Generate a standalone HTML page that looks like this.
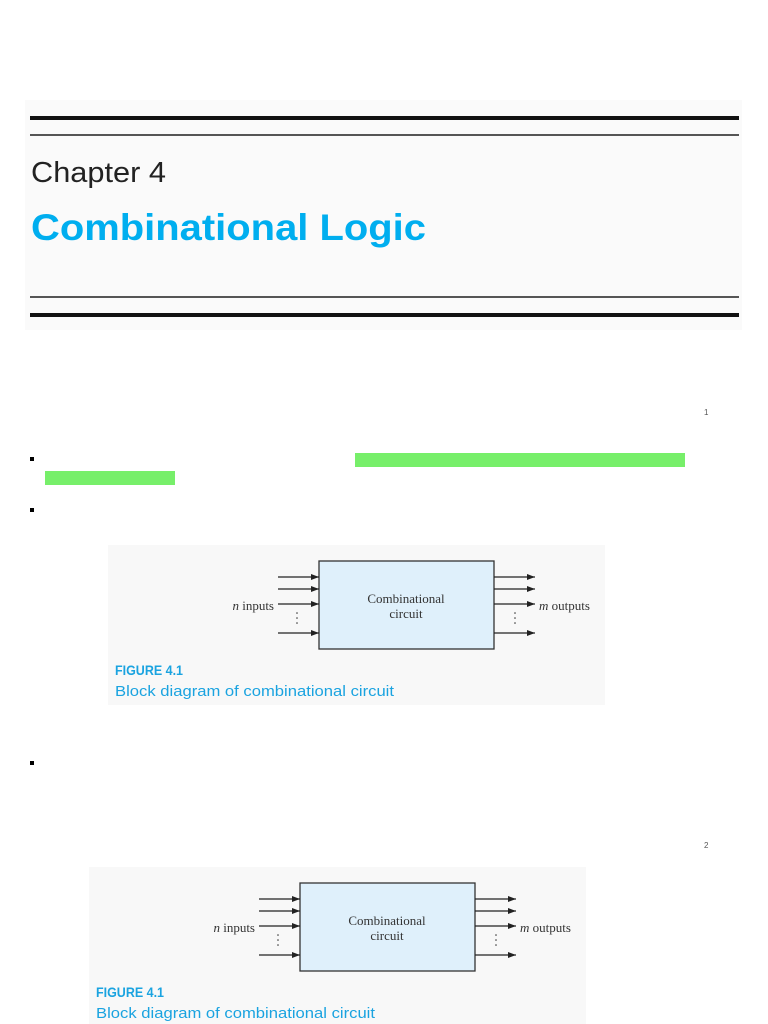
<!DOCTYPE html>
<html><head><meta charset="utf-8"><style>
html,body{margin:0;padding:0;background:#fff;}
svg{display:block}
</style></head><body>
<svg width="768" height="1024" viewBox="0 0 768 1024" xmlns="http://www.w3.org/2000/svg">
<defs>
<marker id="a" markerWidth="8" markerHeight="6" refX="8" refY="3" orient="auto" markerUnits="userSpaceOnUse">
<path d="M0,0 L8,3 L0,6 Z" fill="#222"/></marker>
<g id="fig">
<rect x="0" y="-16" width="497" height="160" fill="#f8f8f8"/>
<rect x="211" y="0" width="175" height="88" fill="#dff0fb" stroke="#333" stroke-width="1.3"/>
<g stroke="#222" stroke-width="1.2" marker-end="url(#a)">
<line x1="170" y1="16" x2="211" y2="16"/>
<line x1="170" y1="28" x2="211" y2="28"/>
<line x1="170" y1="43" x2="211" y2="43"/>
<line x1="170" y1="72" x2="211" y2="72"/>
<line x1="386" y1="16" x2="427" y2="16"/>
<line x1="386" y1="28" x2="427" y2="28"/>
<line x1="386" y1="43" x2="427" y2="43"/>
<line x1="386" y1="72" x2="427" y2="72"/>
</g>
<g fill="#333"><circle cx="189" cy="52" r="0.8"/><circle cx="189" cy="57" r="0.8"/><circle cx="189" cy="62" r="0.8"/>
<circle cx="407" cy="52" r="0.8"/><circle cx="407" cy="57" r="0.8"/><circle cx="407" cy="62" r="0.8"/></g>
<g font-family="Liberation Serif, serif" font-size="13" fill="#333">
<text x="298" y="42" text-anchor="middle">Combinational</text>
<text x="298" y="57" text-anchor="middle">circuit</text>
<text x="166" y="49" text-anchor="end"><tspan font-style="italic">n</tspan> inputs</text>
<text x="431" y="49"><tspan font-style="italic">m</tspan> outputs</text>
</g>
<g font-family="Liberation Sans, sans-serif" fill="#1aa3e0">
<text x="7" y="114" font-size="14" font-weight="bold" textLength="68" lengthAdjust="spacingAndGlyphs">FIGURE 4.1</text>
<text x="7" y="135" font-size="15" textLength="279" lengthAdjust="spacingAndGlyphs">Block diagram of combinational circuit</text>
</g>
</g>
</defs>
<rect x="25" y="100" width="717" height="230" fill="#fafafa"/>
<rect x="30" y="116" width="709" height="4" fill="#111"/>
<rect x="30" y="134" width="709" height="2" fill="#555"/>
<text x="31" y="182" font-family="Liberation Sans, sans-serif" font-size="29" fill="#222" textLength="135" lengthAdjust="spacingAndGlyphs">Chapter 4</text>
<text x="31" y="240" font-family="Liberation Sans, sans-serif" font-size="37" font-weight="bold" fill="#00aeef" textLength="395" lengthAdjust="spacingAndGlyphs">Combinational Logic</text>
<rect x="30" y="296" width="709" height="2" fill="#555"/>
<rect x="30" y="313" width="709" height="4" fill="#111"/>
<text x="704" y="415" font-family="Liberation Sans, sans-serif" font-size="8" fill="#555">1</text>
<rect x="30" y="457" width="4" height="4" fill="#000"/>
<rect x="355" y="453" width="330" height="14" fill="#77ef6a"/>
<rect x="45" y="471" width="130" height="14" fill="#77ef6a"/>
<rect x="30" y="508" width="4" height="4" fill="#000"/>
<use href="#fig" x="108" y="561"/>
<rect x="30" y="761" width="4" height="4" fill="#000"/>
<text x="704" y="848" font-family="Liberation Sans, sans-serif" font-size="8" fill="#555">2</text>
<use href="#fig" x="89" y="883"/>
</svg>
</body></html>
